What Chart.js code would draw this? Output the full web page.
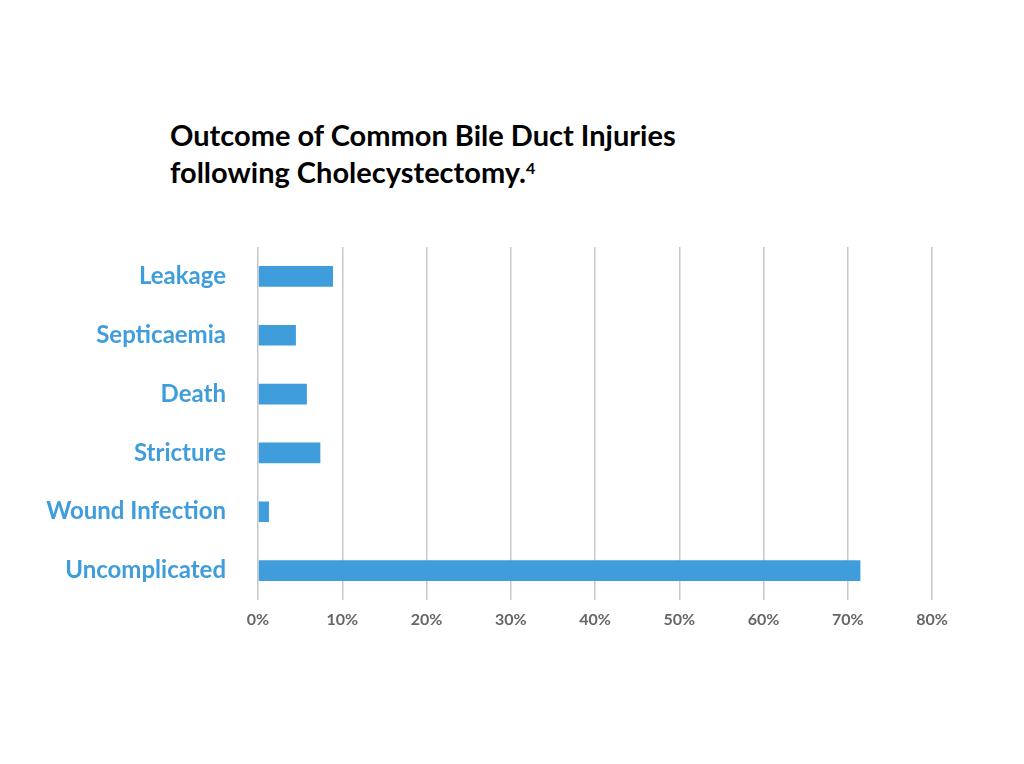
<!DOCTYPE html>
<html><head><meta charset="utf-8">
<script src="https://cdn.jsdelivr.net/npm/chart.js@4"></script>
<style>body{margin:0;background:#fff;width:1024px;height:764px;overflow:hidden;position:relative}
#t{position:absolute;left:170px;top:116px;font:bold 29px Lato,"Open Sans",sans-serif;line-height:37px;color:#000}
#t sup{font-size:16px;vertical-align:top;position:relative;top:-4px}</style></head>
<body><div id="t">Outcome of Common Bile Duct Injuries<br>following Cholecystectomy.<sup>4</sup></div>
<canvas id="c" width="1024" height="764" style="position:absolute;left:0;top:0"></canvas>
<script>
const categories=["Leakage","Septicaemia","Death","Stricture","Wound Infection","Uncomplicated"];
const values=[8.9,4.5,5.8,7.4,1.3,71.5];
const xTicks=[0,10,20,30,40,50,60,70,80];
new Chart(document.getElementById('c'),{type:'bar',
data:{labels:categories,datasets:[{data:values,backgroundColor:'#3f9ddb',barPercentage:0.35,categoryPercentage:1}]},
options:{indexAxis:'y',responsive:false,animation:false,
layout:{padding:{top:247,right:92,bottom:124,left:0}},
plugins:{legend:{display:false},tooltip:{enabled:false}},
scales:{
x:{min:0,max:80,afterBuildTicks:s=>{s.ticks=xTicks.map(v=>({value:v}));},afterFit:s=>{s.height=40;},
grid:{color:'#c8c8c8',lineWidth:1.5,drawTicks:false},border:{display:false},
ticks:{callback:v=>v+'%',color:'#666',font:{family:'Lato',weight:'bold',size:16},padding:10}},
y:{afterFit:s=>{s.width=258;},grid:{display:false},border:{display:false},
ticks:{color:'#3f9ddb',font:{family:'Lato',weight:'bold',size:24},padding:24}}}}});
</script></body></html>
